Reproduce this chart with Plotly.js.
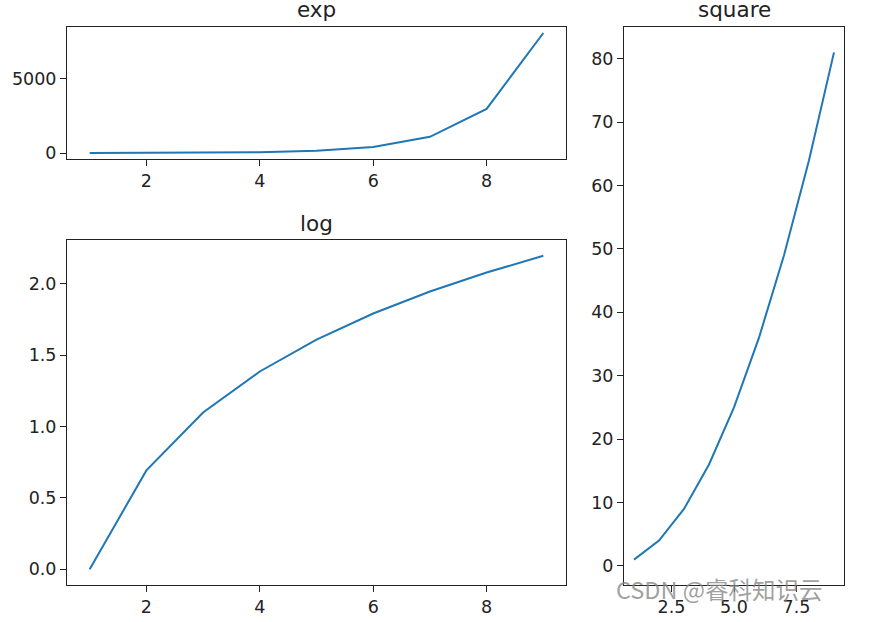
<!DOCTYPE html>
<html>
<head>
<meta charset="utf-8">
<script src="https://cdn.plot.ly/plotly-3.0.1.min.js"></script>
<style>html,body{margin:0;padding:0;background:#fff;}#plot{width:871px;height:622px;}</style>
</head>
<body>
<div id="plot"></div>
<script>
const xValues = [1, 2, 3, 4, 5, 6, 7, 8, 9];
const expValues = [2.718, 7.389, 20.09, 54.60, 148.4, 403.4, 1096.6, 2981.0, 8103.1];
const logValues = [0.0, 0.693, 1.099, 1.386, 1.609, 1.792, 1.946, 2.079, 2.197];
const squareValues = [1, 4, 9, 16, 25, 36, 49, 64, 81];
const titles = ["exp", "log", "square"];
const watermark = "CSDN @睿科知识云";

const W = 871, H = 622;
const px = v => v / W;
const py = v => 1 - v / H;
const lineColor = "#1f77b4";
const tickFont = {family: "DejaVu Sans", size: 17.5, color: "#222"};
const titleFont = {family: "DejaVu Sans", size: 21.5, color: "#222"};

function axisBase(extra) {
  return Object.assign({
    showline: true, linecolor: "#222", linewidth: 1, mirror: true,
    ticks: "outside", ticklen: 6, tickwidth: 1, tickcolor: "#222",
    showgrid: false, zeroline: false, tickfont: tickFont, fixedrange: true
  }, extra);
}

const traces = [
  {x: xValues, y: expValues, xaxis: "x", yaxis: "y", mode: "lines", line: {color: lineColor, width: 2}},
  {x: xValues, y: logValues, xaxis: "x2", yaxis: "y2", mode: "lines", line: {color: lineColor, width: 2}},
  {x: xValues, y: squareValues, xaxis: "x3", yaxis: "y3", mode: "lines", line: {color: lineColor, width: 2}}
];

const layout = {
  width: W, height: H,
  margin: {l: 0, r: 0, t: 0, b: 0},
  paper_bgcolor: "#fff", plot_bgcolor: "#fff",
  showlegend: false,
  xaxis: axisBase({domain: [px(67), px(566)], anchor: "y", range: [0.6, 9.4], tick0: 0, dtick: 2}),
  yaxis: axisBase({domain: [py(159), py(27)], anchor: "x", range: [-402.4, 8508.3], tick0: 0, dtick: 5000, tickformat: "d"}),
  xaxis2: axisBase({domain: [px(67), px(566)], anchor: "y2", range: [0.6, 9.4], tick0: 0, dtick: 2}),
  yaxis2: axisBase({domain: [py(585), py(240)], anchor: "x2", range: [-0.10986, 2.3071], tick0: 0, dtick: 0.5, tickformat: ".1f"}),
  xaxis3: axisBase({domain: [px(624), px(844)], anchor: "y3", range: [0.6, 9.4], tick0: 0, dtick: 2.5, tickformat: ".1f"}),
  yaxis3: axisBase({domain: [py(585), py(27)], anchor: "x3", range: [-3, 85], tick0: 0, dtick: 10}),
  annotations: [
    {text: titles[0], xref: "paper", yref: "paper", x: px(316.5), y: py(10), xanchor: "center", yanchor: "middle", showarrow: false, font: titleFont},
    {text: titles[1], xref: "paper", yref: "paper", x: px(316.5), y: py(223), xanchor: "center", yanchor: "middle", showarrow: false, font: titleFont},
    {text: titles[2], xref: "paper", yref: "paper", x: px(734), y: py(10), xanchor: "center", yanchor: "middle", showarrow: false, font: titleFont},
    {text: watermark, xref: "paper", yref: "paper", x: px(719), y: py(589), xanchor: "center", yanchor: "middle", showarrow: false, font: {family: "Noto Sans CJK SC", size: 23.5, color: "rgba(135,135,135,0.8)"}}
  ]
};

Plotly.newPlot("plot", traces, layout, {staticPlot: true, displayModeBar: false});
</script>
</body>
</html>
